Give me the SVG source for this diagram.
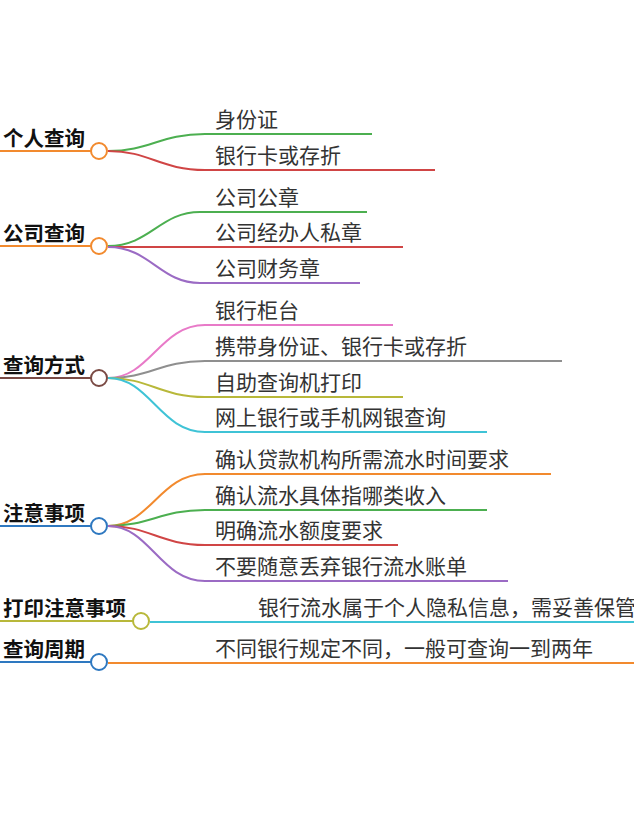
<svg xmlns="http://www.w3.org/2000/svg" width="634" height="815" viewBox="0 0 634 815">
<style>
.r{font-family:"Noto Sans CJK SC",sans-serif;font-weight:bold;font-size:20.5px;fill:#111}
.t{font-family:"Noto Sans CJK SC",sans-serif;font-size:21px;fill:#333}
.l{fill:none;stroke-width:2}
.c{fill:#fff;stroke-width:2}
</style>
<rect width="634" height="815" fill="#fff"/>
<g id="connectors">
<path class="l" stroke="#f28a2e" d="M0 151H91"/>
<path class="l" stroke="#4caf50" d="M108 151C150 151 160 134 205 134H372"/>
<path class="l" stroke="#d04545" d="M108 151C150 151 160 170 205 170H435"/>
<path class="l" stroke="#f28a2e" d="M0 246H91"/>
<path class="l" stroke="#4caf50" d="M108 246C150 246 160 212 200 212H367"/>
<path class="l" stroke="#d04545" d="M108 247H403"/>
<path class="l" stroke="#9b6bc4" d="M108 247C150 247 160 283 200 283H360"/>
<path class="l" stroke="#7a4a44" d="M0 378H91"/>
<path class="l" stroke="#e87ac8" d="M108 378C150 378 160 325 205 325H393"/>
<path class="l" stroke="#8f8f8f" d="M108 378C150 378 160 361 205 361H562"/>
<path class="l" stroke="#b8b83a" d="M108 378C150 378 160 397 205 397H403"/>
<path class="l" stroke="#3fc3d6" d="M108 378C150 378 160 432 205 432H487"/>
<path class="l" stroke="#2e78c0" d="M0 526H91"/>
<path class="l" stroke="#f28a2e" d="M108 526C150 526 160 474 205 474H551"/>
<path class="l" stroke="#4caf50" d="M108 526C150 526 160 510 205 510H487"/>
<path class="l" stroke="#d04545" d="M108 526C150 526 160 545 205 545H398"/>
<path class="l" stroke="#9b6bc4" d="M108 526C150 526 160 581 205 581H508"/>
<path class="l" stroke="#b8b83a" d="M0 621H133"/>
<path class="l" stroke="#3fc3d6" d="M150 622H634"/>
<path class="l" stroke="#2e78c0" d="M0 662H91"/>
<path class="l" stroke="#f28a2e" d="M108 663H634"/>
</g>
<g id="n1"><text class="r" x="3" y="146">个人查询</text><circle class="c" stroke="#f28a2e" cx="99" cy="151" r="8"/>
<text class="t" x="215" y="127">身份证</text><text class="t" x="215" y="163">银行卡或存折</text></g>
<g id="n2"><text class="r" x="3" y="241">公司查询</text><circle class="c" stroke="#f28a2e" cx="99" cy="246" r="8"/>
<text class="t" x="215" y="205">公司公章</text><text class="t" x="215" y="240">公司经办人私章</text><text class="t" x="215" y="276">公司财务章</text></g>
<g id="n3"><text class="r" x="3" y="373">查询方式</text><circle class="c" stroke="#7a4a44" cx="99" cy="378" r="8"/>
<text class="t" x="215" y="318">银行柜台</text><text class="t" x="215" y="354">携带身份证、银行卡或存折</text><text class="t" x="215" y="390">自助查询机打印</text><text class="t" x="215" y="425">网上银行或手机网银查询</text></g>
<g id="n4"><text class="r" x="3" y="521">注意事项</text><circle class="c" stroke="#2e78c0" cx="99" cy="526" r="8"/>
<text class="t" x="215" y="467">确认贷款机构所需流水时间要求</text><text class="t" x="215" y="503">确认流水具体指哪类收入</text><text class="t" x="215" y="538">明确流水额度要求</text><text class="t" x="215" y="574">不要随意丢弃银行流水账单</text></g>
<g id="n5"><text class="r" x="3" y="616">打印注意事项</text><circle class="c" stroke="#b8b83a" cx="141" cy="621" r="8"/>
<text class="t" x="258" y="615">银行流水属于个人隐私信息，需妥善保管</text></g>
<g id="n6"><text class="r" x="3" y="657">查询周期</text><circle class="c" stroke="#2e78c0" cx="99" cy="662" r="8"/>
<text class="t" x="215" y="656">不同银行规定不同，一般可查询一到两年</text></g>
</svg>
